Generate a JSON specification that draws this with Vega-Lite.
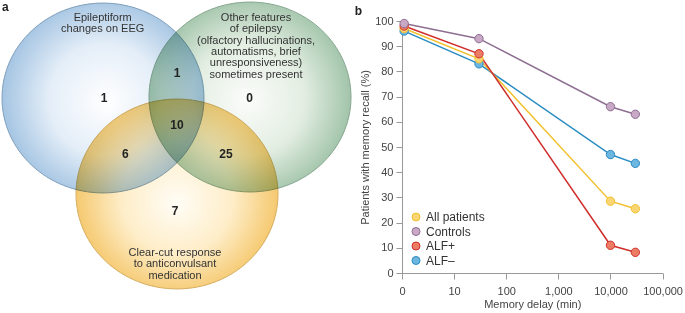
{
  "$schema": "https://vega.github.io/schema/vega-lite/v6.json",
  "padding": {"left": 0, "top": 0, "right": 3, "bottom": 0},
  "background": "white",
  "spacing": 1,
  "resolve": {"legend": {"fill": "independent", "stroke": "independent"}, "scale": {"fill": "independent", "stroke": "independent", "x": "independent", "y": "independent"}},
  "config": {
    "view": {"stroke": null},
    "font": "Liberation Sans",
    "title": {"fontSize": 12, "fontWeight": "bold", "anchor": "start", "color": "#222", "font": "Liberation Sans"},
    "axis": {
      "labelFont": "Liberation Sans", "labelFontSize": 11, "labelColor": "#444",
      "titleFont": "Liberation Sans", "titleFontSize": 11, "titleFontWeight": "normal", "titleColor": "#444",
      "domainColor": "#999", "tickColor": "#999", "grid": false, "tickSize": 6
    }
  },
  "datasets": {
    "circles": [
      {"set": "Epileptiform changes on EEG", "cx": -74, "cy": 32},
      {"set": "Other features of epilepsy", "cx": 73, "cy": 33},
      {"set": "Clear-cut response to anticonvulsant medication", "cx": 0, "cy": -64}
    ],
    "regions": [
      {"x": -73, "y": 32.3, "n": "1"},
      {"x": 0, "y": 57.3, "n": "1"},
      {"x": 72.7, "y": 32.3, "n": "0"},
      {"x": 0, "y": 4.7, "n": "10"},
      {"x": -51.7, "y": -23.7, "n": "6"},
      {"x": 49, "y": -23.7, "n": "25"},
      {"x": -2, "y": -81.3, "n": "7"}
    ],
    "captions": [
      {"x": -74.3, "y": 118, "label": "Epileptiform\nchanges on EEG"},
      {"x": 79, "y": 118, "label": "Other features\nof epilepsy\n(olfactory hallucinations,\nautomatisms, brief\nunresponsiveness)\nsometimes present"},
      {"x": -2, "y": -117, "label": "Clear-cut response\nto anticonvulsant\nmedication"}
    ],
    "recall": [
      {"group": "ALF–", "delay": 1.1, "recall": 96},
      {"group": "ALF–", "delay": 30, "recall": 83},
      {"group": "ALF–", "delay": 10000, "recall": 47},
      {"group": "ALF–", "delay": 30000, "recall": 43.5},
      {"group": "All patients", "delay": 1.1, "recall": 97},
      {"group": "All patients", "delay": 30, "recall": 85},
      {"group": "All patients", "delay": 10000, "recall": 28.5},
      {"group": "All patients", "delay": 30000, "recall": 25.5},
      {"group": "ALF+", "delay": 1.1, "recall": 98},
      {"group": "ALF+", "delay": 30, "recall": 87},
      {"group": "ALF+", "delay": 10000, "recall": 11},
      {"group": "ALF+", "delay": 30000, "recall": 8.2},
      {"group": "Controls", "delay": 1.1, "recall": 99},
      {"group": "Controls", "delay": 30, "recall": 93},
      {"group": "Controls", "delay": 10000, "recall": 66},
      {"group": "Controls", "delay": 30000, "recall": 63}
    ]
  },
  "hconcat": [
    {
      "width": 350,
      "height": 290,
      "title": {"text": "a", "offset": -14, "frame": "group"},
      "encoding": {
        "x": {"field": "cx", "type": "quantitative", "scale": {"domain": [-175, 175], "nice": false, "zero": false}, "axis": null},
        "y": {"field": "cy", "type": "quantitative", "scale": {"domain": [-181, 109], "nice": false, "zero": false}, "axis": null}
      },
      "layer": [
        {
          "data": {"name": "circles"},
          "transform": [{"filter": "datum.set === 'Epileptiform changes on EEG'"}],
          "mark": {
            "type": "point", "shape": "M-1,0A1,0.94,0,1,1,1,0A1,0.94,0,1,1,-1,0Z", "size": 40804,
            "filled": true, "opacity": 1, "blend": "multiply",
            "fill": {"gradient": "radial", "x1": 0.52, "y1": 0.52, "r1": 0, "x2": 0.5, "y2": 0.5, "r2": 0.5,
              "stops": [{"offset": 0, "color": "#ffffff"}, {"offset": 0.55, "color": "#e4eef8"}, {"offset": 1, "color": "#a4c4e2"}]},
            "stroke": "#7f9fbb", "strokeWidth": 1
          }
        },
        {
          "data": {"name": "circles"},
          "transform": [{"filter": "datum.set === 'Other features of epilepsy'"}],
          "mark": {
            "type": "point", "shape": "M-1,0A1,0.94,0,1,1,1,0A1,0.94,0,1,1,-1,0Z", "size": 40804,
            "filled": true, "opacity": 1, "blend": "multiply",
            "fill": {"gradient": "radial", "x1": 0.48, "y1": 0.52, "r1": 0, "x2": 0.5, "y2": 0.5, "r2": 0.5,
              "stops": [{"offset": 0, "color": "#fbfcfa"}, {"offset": 0.55, "color": "#e3eee2"}, {"offset": 1, "color": "#a2c4aa"}]},
            "stroke": "#86a68f", "strokeWidth": 1
          }
        },
        {
          "data": {"name": "circles"},
          "transform": [{"filter": "datum.set === 'Clear-cut response to anticonvulsant medication'"}],
          "mark": {
            "type": "point", "shape": "M-1,0A1,0.94,0,1,1,1,0A1,0.94,0,1,1,-1,0Z", "size": 40804,
            "filled": true, "opacity": 1, "blend": "multiply",
            "fill": {"gradient": "radial", "x1": 0.5, "y1": 0.55, "r1": 0, "x2": 0.5, "y2": 0.5, "r2": 0.5,
              "stops": [{"offset": 0, "color": "#fffdf6"}, {"offset": 0.55, "color": "#feedc8"}, {"offset": 1, "color": "#f5c970"}]},
            "stroke": "#d6ad60", "strokeWidth": 1
          }
        },
        {
          "data": {"name": "regions"},
          "mark": {"type": "text", "fontSize": 12, "fontWeight": "bold", "color": "#222", "align": "center", "baseline": "middle"},
          "encoding": {
            "x": {"field": "x", "type": "quantitative"},
            "y": {"field": "y", "type": "quantitative"},
            "text": {"field": "n", "type": "nominal"}
          }
        },
        {
          "data": {"name": "captions"},
          "mark": {"type": "text", "fontSize": 11, "color": "#333", "align": "center", "baseline": "top", "lineBreak": "\n", "lineHeight": 11.3},
          "encoding": {
            "x": {"field": "x", "type": "quantitative"},
            "y": {"field": "y", "type": "quantitative"},
            "text": {"field": "label", "type": "nominal"}
          }
        }
      ]
    },
    {
      "width": 260.6,
      "height": 252,
      "title": {"text": "b", "offset": -3, "frame": "bounds", "dx": -5},
      "data": {"name": "recall"},
      "encoding": {
        "x": {
          "field": "delay", "type": "quantitative", "title": "Memory delay (min)",
          "scale": {"type": "log", "domain": [1, 100000], "nice": false},
          "axis": {"values": [1, 10, 100, 1000, 10000, 100000], "labelExpr": "datum.value == 1 ? '0' : format(datum.value, ',')", "labelPadding": 6, "titlePadding": 2, "labelFlush": false}
        },
        "y": {
          "field": "recall", "type": "quantitative", "title": "Patients with memory recall (%)",
          "scale": {"domain": [0, 100], "nice": false},
          "axis": {"values": [0, 10, 20, 30, 40, 50, 60, 70, 80, 90, 100], "labelPadding": 3, "titlePadding": 4}
        }
      },
      "layer": [
        {
          "mark": {"type": "line", "strokeWidth": 1.5},
          "encoding": {
            "stroke": {
              "field": "group", "type": "nominal",
              "scale": {"domain": ["All patients", "Controls", "ALF+", "ALF–"], "range": ["#f2c12e", "#8e6f92", "#cf2f2c", "#2a8cc2"]},
              "legend": {"orient": "none", "legendX": 8, "legendY": 190, "title": null, "symbolType": "circle", "symbolSize": 64, "symbolStrokeWidth": 1, "labelFontSize": 12, "labelColor": "#333", "labelFont": "Liberation Sans", "rowPadding": 2.5, "padding": 0, "labelOffset": 4}
            }
          }
        },
        {
          "mark": {"type": "point", "filled": true, "size": 70, "strokeWidth": 1, "opacity": 1},
          "encoding": {
            "fill": {
              "field": "group", "type": "nominal",
              "scale": {"domain": ["All patients", "Controls", "ALF+", "ALF–"], "range": ["#f9d671", "#c9a8c6", "#ec7d64", "#6cb6e2"]},
              "legend": {"orient": "none", "legendX": 8, "legendY": 190, "title": null, "symbolType": "circle", "symbolSize": 64, "symbolStrokeWidth": 1, "labelFontSize": 12, "labelColor": "#333", "labelFont": "Liberation Sans", "rowPadding": 2.5, "padding": 0, "labelOffset": 4}
            },
            "stroke": {
              "field": "group", "type": "nominal",
              "legend": {"orient": "none", "legendX": 8, "legendY": 190, "title": null, "symbolType": "circle", "symbolSize": 64, "symbolStrokeWidth": 1, "labelFontSize": 12, "labelColor": "#333", "labelFont": "Liberation Sans", "rowPadding": 2.5, "padding": 0, "labelOffset": 4}
            }
          }
        }
      ]
    }
  ]
}
